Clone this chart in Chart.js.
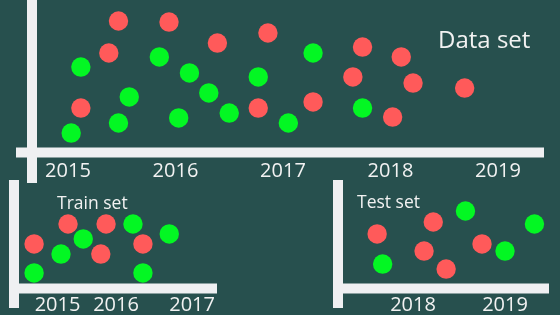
<!DOCTYPE html>
<html>
<head>
<meta charset="utf-8">
<script src="https://cdn.jsdelivr.net/npm/chart.js@4/dist/chart.umd.min.js"></script>
<style>
  html, body { margin: 0; padding: 0; background: #27504e; width: 560px; height: 315px; overflow: hidden; }
  canvas { position: absolute; left: 0; top: 0; }
</style>
</head>
<body>
<canvas id="cTop" width="560" height="315"></canvas>
<canvas id="cTrain" width="560" height="315"></canvas>
<canvas id="cTest" width="560" height="315"></canvas>
<script>
// ---- Data (years on x, arbitrary 0-10 value on y) ----
const topTickValues = [2015, 2016, 2017, 2018, 2019];
const topTickLabels = ['2015', '2016', '2017', '2018', '2019'];
const topRedX   = [2015.47, 2015.94, 2015.38, 2016.39, 2016.86, 2015.12, 2016.77, 2017.74, 2018.10, 2017.65, 2018.21, 2018.69, 2017.28, 2018.02];
const topRedY   = [8.58, 8.51, 6.42, 7.09, 7.77, 2.70, 2.70, 6.82, 6.15, 4.80, 4.39, 4.05, 3.11, 2.09];
const topGreenX = [2015.12, 2015.85, 2016.13, 2015.57, 2016.31, 2015.47, 2016.03, 2016.50, 2016.77, 2015.03, 2017.05, 2017.28, 2017.74];
const topGreenY = [5.47, 6.15, 5.07, 3.45, 3.72, 1.69, 2.03, 2.36, 4.80, 1.01, 1.69, 6.42, 2.70];

const trainTickValues = [2015, 2016, 2017.3];
const trainTickLabels = ['2015', '2016', '2017'];
const trainRedX   = [2015.18, 2015.83, 2014.60, 2015.74, 2016.46];
const trainRedY   = [5.77, 5.77, 3.85, 2.88, 3.85];
const trainGreenX = [2016.29, 2016.91, 2015.44, 2015.06, 2014.60, 2016.46];
const trainGreenY = [5.77, 4.81, 4.33, 2.88, 1.06, 1.06];

const testTickValues = [2018, 2019];
const testTickLabels = ['2018', '2019'];
const testRedX   = [2017.61, 2018.22, 2018.12, 2018.36, 2018.75];
const testRedY   = [4.81, 5.96, 3.17, 1.44, 3.85];
const testGreenX = [2017.67, 2018.57, 2019.00, 2019.32];
const testGreenY = [1.92, 7.02, 3.17, 5.77];

// ---- Styles ----
const RED = '#ff5a5a';
const GREEN = '#03f723';
const BAR = '#eff0f2';
const TEXT = '#f2f2f2';
const FONT = '"Open Sans", "DejaVu Sans", sans-serif';

function pts(xs, ys) { return xs.map((x, i) => ({ x: x, y: ys[i] })); }

function decor(cfg) {
  return {
    id: 'decor',
    beforeDatasetsDraw(chart) {
      const ca = chart.chartArea, ctx = chart.ctx;
      ctx.save();
      ctx.fillStyle = BAR;
      // vertical bar
      ctx.fillRect(ca.left - 10, ca.top, 10, ca.bottom - ca.top + cfg.vExt);
      // horizontal bar
      ctx.fillRect(ca.left - cfg.hExt, ca.bottom - 0.5, ca.right - ca.left + cfg.hExt, 10);
      // title text
      ctx.fillStyle = TEXT;
      ctx.font = cfg.font;
      ctx.textBaseline = 'alphabetic';
      ctx.textAlign = 'left';
      ctx.fillText(cfg.title, cfg.tx, cfg.ty);
      ctx.restore();
    }
  };
}

function makeChart(id, redX, redY, greenX, greenY, tickValues, tickLabels, xmin, xmax, pad, axisH, tickPad, deco) {
  return new Chart(document.getElementById(id), {
    type: 'scatter',
    data: {
      datasets: [
        { data: pts(redX, redY), backgroundColor: RED, borderWidth: 0, pointRadius: 9.7, pointHoverRadius: 9.7 },
        { data: pts(greenX, greenY), backgroundColor: GREEN, borderWidth: 0, pointRadius: 9.7, pointHoverRadius: 9.7 }
      ]
    },
    options: {
      responsive: false,
      animation: false,
      devicePixelRatio: 1,
      clip: false,
      layout: { padding: pad, autoPadding: false },
      plugins: { legend: { display: false }, tooltip: { enabled: false }, title: { display: false } },
      scales: {
        x: {
          type: 'linear', min: xmin, max: xmax,
          grid: { display: false, drawTicks: false },
          border: { display: false },
          afterBuildTicks: (s) => { s.ticks = tickValues.map(v => ({ value: v })); },
          afterFit: (s) => { s.height = axisH; },
          ticks: {
            autoSkip: false, maxRotation: 0, padding: tickPad,
            color: TEXT, font: { family: FONT, size: 20 },
            callback: (v, i) => tickLabels[i]
          }
        },
        y: { display: false, min: 0, max: 10 }
      }
    },
    plugins: [decor(deco)]
  });
}

makeChart('cTop', topRedX, topRedY, topGreenX, topGreenY, topTickValues, topTickLabels,
  2014.712, 2019.428, { left: 37, right: 16, top: 0, bottom: 127 }, 40, 11,
  { vExt: 35, hExt: 21, title: 'Data set', font: '24px ' + FONT, tx: 438, ty: 48 });

makeChart('cTrain', trainRedX, trainRedY, trainGreenX, trainGreenY, trainTickValues, trainTickLabels,
  2014.342, 2017.726, { left: 19, right: 343, top: 180, bottom: 0 }, 31, 9,
  { vExt: 24, hExt: 10, title: 'Train set', font: '17.5px ' + FONT, tx: 57, ty: 209 });

makeChart('cTest', testRedX, testRedY, testGreenX, testGreenY, testTickValues, testTickLabels,
  2017.239, 2019.478, { left: 343, right: 11, top: 180, bottom: 0 }, 31, 9,
  { vExt: 24, hExt: 10, title: 'Test set', font: '17.5px ' + FONT, tx: 357, ty: 208 });
</script>
</body>
</html>
